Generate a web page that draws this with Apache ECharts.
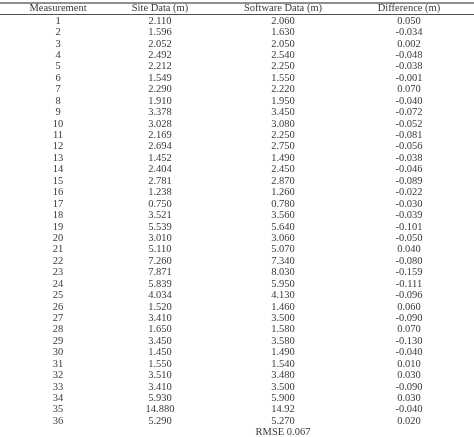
<!DOCTYPE html>
<html>
<head>
<meta charset="utf-8">
<script src="https://cdn.jsdelivr.net/npm/echarts@6/dist/echarts.min.js"></script>
<style>html,body{margin:0;padding:0;background:#fff}#c{width:474px;height:437px}</style>
</head>
<body>
<div id="c"></div>
<script>
const headers = ['Measurement', 'Site Data (m)', 'Software Data (m)', 'Difference (m)'];
const siteData = ['2.110','1.596','2.052','2.492','2.212','1.549','2.290','1.910','3.378','3.028','2.169','2.694','1.452','2.404','2.781','1.238','0.750','3.521','5.539','3.010','5.110','7.260','7.871','5.839','4.034','1.520','3.410','1.650','3.450','1.450','1.550','3.510','3.410','5.930','14.880','5.290'];
const softwareData = ['2.060','1.630','2.050','2.540','2.250','1.550','2.220','1.950','3.450','3.080','2.250','2.750','1.490','2.450','2.870','1.260','0.780','3.560','5.640','3.060','5.070','7.340','8.030','5.950','4.130','1.460','3.500','1.580','3.580','1.490','1.540','3.480','3.500','5.900','14.92','5.270'];
const difference = ['0.050','-0.034','0.002','-0.048','-0.038','-0.001','0.070','-0.040','-0.072','-0.052','-0.081','-0.056','-0.038','-0.046','-0.089','-0.022','-0.030','-0.039','-0.101','-0.050','0.040','-0.080','-0.159','-0.111','-0.096','0.060','-0.090','0.070','-0.130','-0.040','0.010','0.030','-0.090','0.030','-0.040','0.020'];
const rmse = 'RMSE 0.067';

const colX = [58, 160, 283, 409];
const cells = [];
headers.forEach((h, c) => cells.push([colX[c], -1.1, h]));
siteData.forEach((v, i) => {
  cells.push([colX[0], i, String(i + 1)]);
  cells.push([colX[1], i, v]);
  cells.push([colX[2], i, softwareData[i]]);
  cells.push([colX[3], i, difference[i]]);
});
cells.push([colX[2], siteData.length, rmse]);

const chart = echarts.init(document.getElementById('c'));
chart.setOption({
  animation: false,
  grid: { left: 0, right: 0, top: 21, height: 411.5 },
  xAxis: { type: 'value', min: 0, max: 474, show: false },
  yAxis: { type: 'value', min: 0, max: 36, inverse: true, show: false },
  graphic: [
    { type: 'line', shape: { x1: 0, y1: 3, x2: 474, y2: 3 }, style: { stroke: '#222', lineWidth: 1.2 } },
    { type: 'line', shape: { x1: 0, y1: 14.5, x2: 474, y2: 14.5 }, style: { stroke: '#222', lineWidth: 0.8 } }
  ],
  series: [{
    type: 'scatter',
    data: cells,
    symbolSize: 0,
    clip: false,
    label: {
      show: true,
      position: 'inside',
      formatter: p => p.data[2],
      fontFamily: 'Liberation Serif',
      fontSize: 10.5,
      color: '#000'
    }
  }]
});
</script>
</body>
</html>
